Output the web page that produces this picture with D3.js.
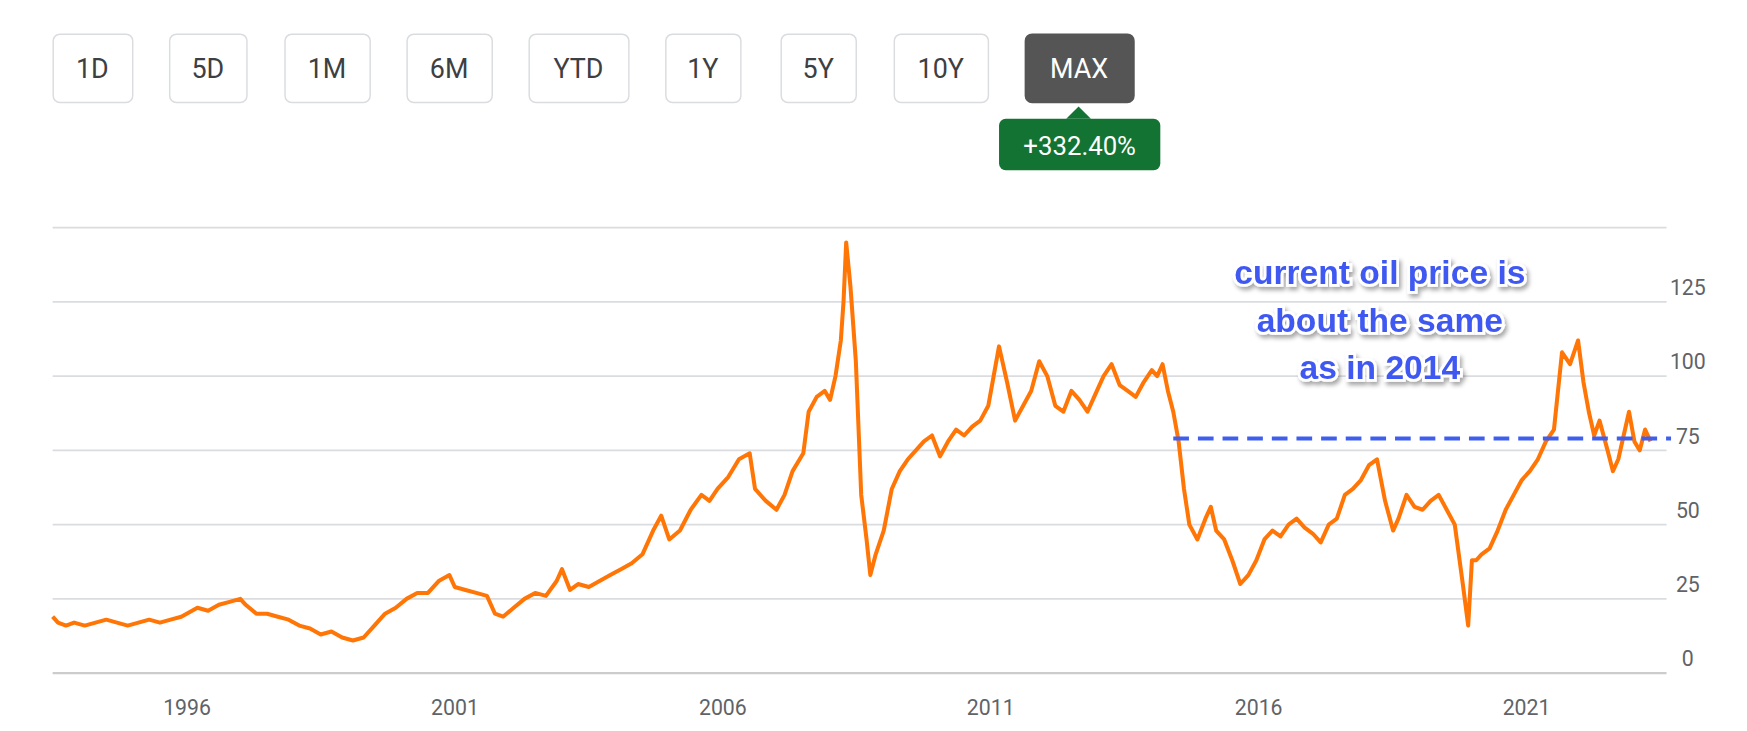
<!DOCTYPE html>
<html><head><meta charset="utf-8">
<script src="https://cdn.jsdelivr.net/npm/d3@7"></script>
<style>body{margin:0;background:#fff;font-family:Roboto,Arial,sans-serif}</style>
</head><body><svg id="c" width="1747" height="731"></svg>
<script>
const buttons = ["1D","5D","1M","6M","YTD","1Y","5Y","10Y","MAX"];
const changeLabel = "+332.40%";
const yTicks = [0,25,50,75,100,125];
const xTicks = [1996,2001,2006,2011,2016,2021];
const dates = [1993.5,1993.6,1993.75,1993.9,1994.1,1994.3,1994.5,1994.7,1994.9,1995.1,1995.3,1995.5,1995.7,1995.9,1996.0,1996.2,1996.4,1996.6,1996.8,1997.0,1997.1,1997.3,1997.5,1997.7,1997.9,1998.1,1998.3,1998.5,1998.7,1998.9,1999.1,1999.3,1999.5,1999.7,1999.9,2000.1,2000.3,2000.5,2000.7,2000.9,2001.0,2001.2,2001.4,2001.6,2001.75,2001.9,2002.1,2002.3,2002.5,2002.7,2002.9,2003.0,2003.15,2003.3,2003.5,2003.7,2003.9,2004.1,2004.3,2004.5,2004.7,2004.85,2005.0,2005.2,2005.4,2005.6,2005.75,2005.9,2006.1,2006.3,2006.5,2006.6,2006.8,2007.0,2007.15,2007.3,2007.5,2007.6,2007.75,2007.9,2008.0,2008.1,2008.2,2008.25,2008.3,2008.38,2008.48,2008.58,2008.68,2008.75,2008.85,2009.0,2009.15,2009.3,2009.45,2009.6,2009.75,2009.9,2010.05,2010.2,2010.35,2010.5,2010.65,2010.8,2010.95,2011.05,2011.15,2011.3,2011.45,2011.6,2011.75,2011.9,2012.05,2012.2,2012.35,2012.5,2012.65,2012.8,2012.95,2013.1,2013.25,2013.4,2013.55,2013.7,2013.85,2014.0,2014.1,2014.2,2014.3,2014.4,2014.5,2014.6,2014.7,2014.85,2015.0,2015.1,2015.2,2015.35,2015.5,2015.65,2015.8,2015.95,2016.1,2016.25,2016.4,2016.55,2016.7,2016.85,2017.0,2017.15,2017.3,2017.45,2017.6,2017.75,2017.9,2018.05,2018.2,2018.35,2018.5,2018.6,2018.75,2018.9,2019.05,2019.2,2019.35,2019.5,2019.65,2019.8,2019.9,2019.97,2020.05,2020.15,2020.3,2020.45,2020.6,2020.75,2020.9,2021.05,2021.2,2021.35,2021.5,2021.65,2021.8,2021.95,2022.05,2022.15,2022.25,2022.35,2022.5,2022.6,2022.7,2022.8,2022.9,2023.0,2023.1,2023.2,2023.3,2023.4,2023.5,2023.6];
const prices = [19,17,16,17,16,17,18,17,16,17,18,17,18,19,20,22,21,23,24,25,23,20,20,19,18,16,15,13,14,12,11,12,16,20,22,25,27,27,31,33,29,28,27,26,20,19,22,25,27,26,31,35,28,30,29,31,33,35,37,40,48,53,45,48,55,60,58,62,66,72,74,62,58,55,60,68,74,88,93,95,92,100,112,125,145,130,105,60,45,33,40,48,62,68,72,75,78,80,73,78,82,80,83,85,90,100,110,98,85,90,95,105,100,90,88,95,92,88,94,100,104,97,95,93,98,102,100,104,95,88,78,62,50,45,52,56,48,45,38,30,33,38,45,48,46,50,52,49,47,44,50,52,60,62,65,70,72,58,48,52,60,56,55,58,60,55,50,30,16,38,38,40,42,48,55,60,65,68,72,78,82,108,104,112,98,88,80,85,75,68,72,80,88,78,75,82,78];
const annotation = ["current oil price is","about the same","as in 2014"];
const refLevel = 79, refStart = 2014.4;

const root = d3.select("#c");
const defs = root.append("defs");
const f = defs.append("filter").attr("id","sh").attr("x","-10%").attr("y","-20%").attr("width","120%").attr("height","150%");
f.append("feDropShadow").attr("dx",2).attr("dy",3).attr("stdDeviation",2).attr("flood-color","#000").attr("flood-opacity",0.35);
const svg = root.append("g").attr("transform","scale(1.12)");

const bx=[47,151,254,363,472,594,697,798,915], bw=[71,69,76,76,89,67,67,84,97];
buttons.forEach((b,i)=>{
  const g=svg.append("g");
  const last=b==="MAX";
  g.append("rect").attr("x",bx[i]+0.5).attr("y",30.5).attr("width",bw[i]).attr("height",61).attr("rx",6)
   .attr("fill",last?"#555":"#fff").attr("stroke",last?"#555":"#dadce0").attr("stroke-width",1.3);
  g.append("text").attr("x",bx[i]+bw[i]/2).attr("y",70).attr("text-anchor","middle")
   .attr("font-size",24).attr("fill",last?"#fff":"#3c4043").text(b);
});
svg.append("path").attr("d","M952,106 L963,95 L974,106 Z").attr("fill","#137333");
svg.append("rect").attr("x",892).attr("y",106).attr("width",144).attr("height",46).attr("rx",6).attr("fill","#137333");
svg.append("text").attr("x",964).attr("y",138).attr("text-anchor","middle").attr("font-size",23).attr("fill","#fff").text(changeLabel);

const x=d3.scaleLinear().domain([1993.5,2023.6]).range([47,1488]);
const xs=d3.scaleLinear().domain([1996,2021]).range([167,1363]);
const y=d3.scaleLinear().domain([0,25]).range([601,534.7]);

[...yTicks,150].forEach(t=>{
  svg.append("line").attr("x1",47).attr("x2",1488).attr("y1",y(t)).attr("y2",y(t))
   .attr("stroke",t===0?"#ccc":"#dadce0").attr("stroke-width",t===0?2:1.5);
});
yTicks.forEach(t=>svg.append("text").attr("x",1507).attr("y",y(t)-6).attr("text-anchor","middle")
  .attr("font-size",19).attr("fill","#5f6368").text(t));
xTicks.forEach(t=>svg.append("text").attr("x",xs(t)).attr("y",638).attr("text-anchor","middle")
  .attr("font-size",19).attr("fill","#5f6368").text(t));

const line=d3.line().x((d,i)=>x(dates[i])).y(d=>y(d));
svg.append("path").datum(prices).attr("d",line).attr("fill","none").attr("stroke","#ff7606")
  .attr("stroke-width",3.6).attr("stroke-linejoin","round");

svg.append("line").attr("x1",x(refStart)).attr("x2",1492).attr("y1",y(refLevel)).attr("y2",y(refLevel))
  .attr("stroke","#3f5ef0").attr("stroke-width",3.6).attr("stroke-dasharray","14,8");

annotation.forEach((t,i)=>{
  svg.append("text").attr("x",1232).attr("y",254+i*42).attr("text-anchor","middle")
   .attr("font-family","Liberation Sans, Arial, sans-serif").attr("font-weight","bold").attr("font-size",30)
   .attr("fill","#4159f2").attr("stroke","#fff").attr("stroke-width",5).attr("paint-order","stroke")
   .attr("filter","url(#sh)").text(t);
});
</script></body></html>
